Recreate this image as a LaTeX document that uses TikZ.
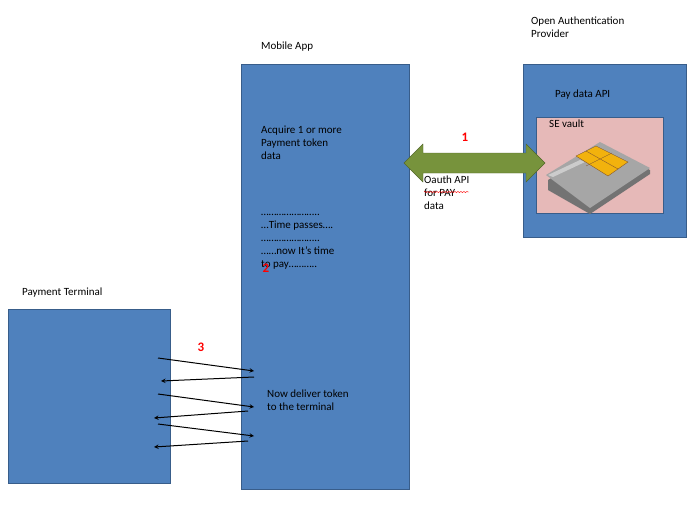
\documentclass[tikz,border=0pt]{standalone}
\usepackage{fontspec}
\usetikzlibrary{decorations.pathmorphing}
\setmainfont{Carlito}
\begin{document}
\begin{tikzpicture}[x=1pt,y=-1pt,
  lbl/.style={font=\fontsize{11}{13}\selectfont, anchor=north west, align=left, inner sep=0pt},
  num/.style={font=\bfseries\fontsize{13}{15}\selectfont, text=red},
  arr/.style={-stealth, line width=1pt}]
\definecolor{blueA}{HTML}{4F81BD}
\definecolor{blueB}{HTML}{385D8A}
\definecolor{pinkA}{HTML}{E6B9B8}
\definecolor{greenA}{HTML}{77933C}
\useasboundingbox (0,0) rectangle (696,507);
\fill[white] (0,0) rectangle (696,507);
\node[draw=blueB, line width=1.2pt, fill=blueA, minimum width=168, minimum height=425, anchor=north west, inner sep=0pt] (app) at (241,64) {};
\node[draw=blueB, line width=1.2pt, fill=blueA, minimum width=162, minimum height=174, anchor=north west, inner sep=0pt] (term) at (8,309) {};
\node[draw=blueB, line width=1.2pt, fill=blueA, minimum width=163, minimum height=173, anchor=north west, inner sep=0pt] (oap) at (523,64) {};
\node[draw=blueB, line width=1.2pt, fill=pinkA, minimum width=127, minimum height=96, anchor=north west, inner sep=0pt] (se) at (536,117) {};
% labels
\node[lbl] (t1) at (261,42) {Mobile App};
\node[lbl] (t2) at (22,288) {Payment Terminal};
\node[lbl] (t3) at (531,17) {Open Authentication\\Provider};
\node[lbl] (t4) at (555,90) {Pay data API};
\node[lbl] (t5) at (549,120) {SE vault};
\node[lbl] (t6) at (261,126) {Acquire 1 or more\\Payment token\\data};
\node[lbl] (t7) at (261,214) {\ldots\ldots\ldots\ldots\ldots\ldots\ldots..\\\ldots Time passes\ldots.\\\ldots\ldots\ldots\ldots\ldots\ldots\ldots..\\\ldots\ldots now It’s time\\to pay\ldots\ldots\ldots..};
\node[lbl] (t8) at (267,390) {Now deliver token\\to the terminal};
\node[lbl] (t9) at (424,176) {Oauth API\\for PAY\\data};
\draw[red, decorate, decoration={snake, amplitude=0.6, segment length=3}, line width=0.4pt] (424,192) -- (469,192);
\node[num] (n1) at (465,137) {1};
\node[num] (n2) at (266,268) {2};
\node[num] (n3) at (201,347) {3};
% SIM card
\fill[black!55] (548,180) -- (602,147) -- (650,170) -- (650,174) -- (590,214) -- (548,190) -- cycle;
\fill[gray!70] (546,175) -- (600,142) -- (650,168) -- (590,208) -- cycle;
\fill[gray!40] (548,175) -- (580,160) -- (585,162) -- (553,177) -- cycle;
\fill[orange!50!yellow!80!brown, draw=brown!70!black, line width=0.4pt] (576,156) -- (596,146) -- (628,162) -- (608,176) -- cycle;
\draw[brown!70!black, line width=0.4pt] (586,151) -- (618,169) (596,161) -- (612,153) (586,166) -- (602,158);
% big double arrow
\fill[greenA, draw=greenA!70!black] (404,163) -- (423,144) -- (423,153) -- (526,153) -- (526,144) -- (545,163) -- (526,182) -- (526,173) -- (423,173) -- (423,182) -- cycle;
% exchange arrows
\coordinate (a1) at (158,358); \coordinate (b1) at (254,371);
\coordinate (a2) at (254,377); \coordinate (b2) at (161,381);
\coordinate (a3) at (158,394); \coordinate (b3) at (254,407);
\coordinate (a4) at (248,411); \coordinate (b4) at (154,418);
\coordinate (a5) at (158,424); \coordinate (b5) at (254,436);
\coordinate (a6) at (248,441); \coordinate (b6) at (154,447);
\foreach \i in {1,...,6} \draw[arr] (a\i) -- (b\i);
\end{tikzpicture}
\end{document}
